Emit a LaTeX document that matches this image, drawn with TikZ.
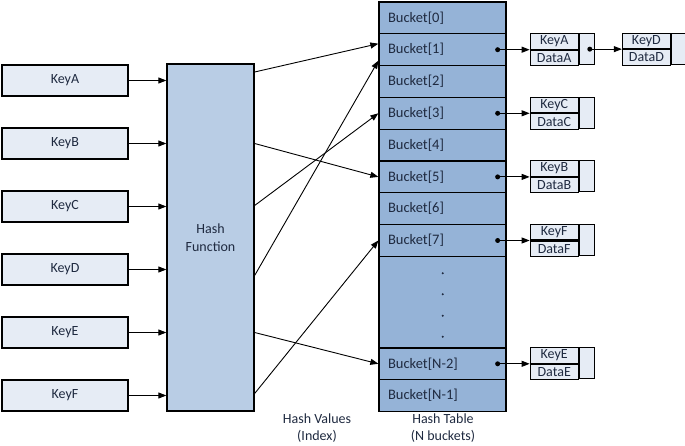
\documentclass[tikz,border=0pt]{standalone}
\usepackage{fontspec}
\setmainfont{Carlito}
\usetikzlibrary{arrows.meta,positioning}
\definecolor{keyfill}{HTML}{E6ECF5}
\definecolor{hashfill}{HTML}{B9CDE5}
\definecolor{bucketfill}{HTML}{95B3D7}
\definecolor{txt}{HTML}{1F2A40}
\tikzset{
    keybox/.style = {draw, line width=1.3pt, fill=keyfill, minimum width=126pt, minimum height=31pt, inner sep=0pt},
    bucket/.style = {draw, line width=1.3pt, fill=bucketfill, text width=109pt, inner xsep=9pt, inner ysep=0pt, minimum height=31.8pt, align=left, font=\fontsize{14.5}{17}\selectfont},
    cell/.style = {draw, line width=1.1pt, fill=keyfill, minimum width=48pt, minimum height=15.5pt, inner sep=0pt},
    ptr/.style = {draw, line width=1.1pt, fill=keyfill, minimum width=15pt, minimum height=31pt, inner sep=0pt},
    arr/.style = {line width=0.9pt, -{Triangle[length=8pt,width=6pt]}},
    dot/.style = {circle, fill=black, inner sep=0pt, minimum size=5pt}
}
\begin{document}
\begin{tikzpicture}[x=1pt,y=-1pt,font=\fontsize{14}{16.5}\selectfont,text=txt]
            \useasboundingbox (0,0) rectangle (685,446);
            \node [draw, line width=1.3pt, fill=hashfill, minimum width=87pt, minimum height=347pt, align=center] (hash) at (210.5,237.5) {Hash\\[1.5pt]Function};
            \foreach \k [count=\i] in {A,B,C,D,E,F}
                {\node [keybox] (key\k) at (65,80.5+63*\i-63) {Key\k};
                 \draw [arr] (key\k.east) -- (key\k.east -| hash.west);}
            \foreach \i in {0,...,7}
                \node [bucket] (b\i) at (442.5,17.9+31.8*\i) {Bucket[\i]};
            \node [bucket, minimum height=91.6pt] (bdots) at (442.5,302.2) {};
            \foreach \y in {273.3,294.3,315.7,336.7}
                \fill [txt] (442.7,\y) circle (1.1pt);
            \node [bucket, minimum height=31.6pt] (bN2) at (442.5,363.8) {Bucket[N-2]};
            \node [bucket, minimum height=31.6pt] (bN1) at (442.5,395.4) {Bucket[N-1]};
            \draw [arr] ([yshift=8.5pt]hash.east |- keyA) -- ([yshift=6pt]b1.west);
            \draw [arr] (hash.east |- keyB) -- (b5.west);
            \draw [arr] ([yshift=1pt]hash.east |- keyC) -- (b3.west);
            \draw [arr] ([yshift=-6pt]hash.east |- keyD) -- ([yshift=-11pt]b1.west);
            \draw [arr] (hash.east |- keyE) -- (bN2.west);
            \draw [arr] ([yshift=2pt]hash.east |- keyF) -- (b7.west);
            \foreach \b/\k in {1/A,3/C,5/B,7/F,N2/E}
                {\node [dot] (dot\k) at ([xshift=-9pt]b\b.east) {};
                 \node [cell, anchor=south west] (k\k) at ([xshift=23pt]b\b.east) {Key\k};
                 \node [cell, below=0pt of k\k] (d\k) {Data\k};
                 \node [ptr, anchor=north west] (q\k) at (k\k.north east) {};
                 \draw [arr] (dot\k.center) -- (k\k.south west);}
            \node [cell, anchor=south west] (kD) at ([xshift=27pt]qA.east) {KeyD};
            \node [cell, below=0pt of kD] (dD) {DataD};
            \node [ptr, anchor=north west] (qD) at (kD.north east) {};
            \node [dot] (dotAD) at ([xshift=3pt]qA.center) {};
            \draw [arr] (dotAD.center) -- (kD.south west);
            \node [align=center] (hv) at (317,428) {Hash Values\\(Index)};
            \node [align=center] (ht) at (443,428) {Hash Table\\(N buckets)};
        \end{tikzpicture}
\end{document}
